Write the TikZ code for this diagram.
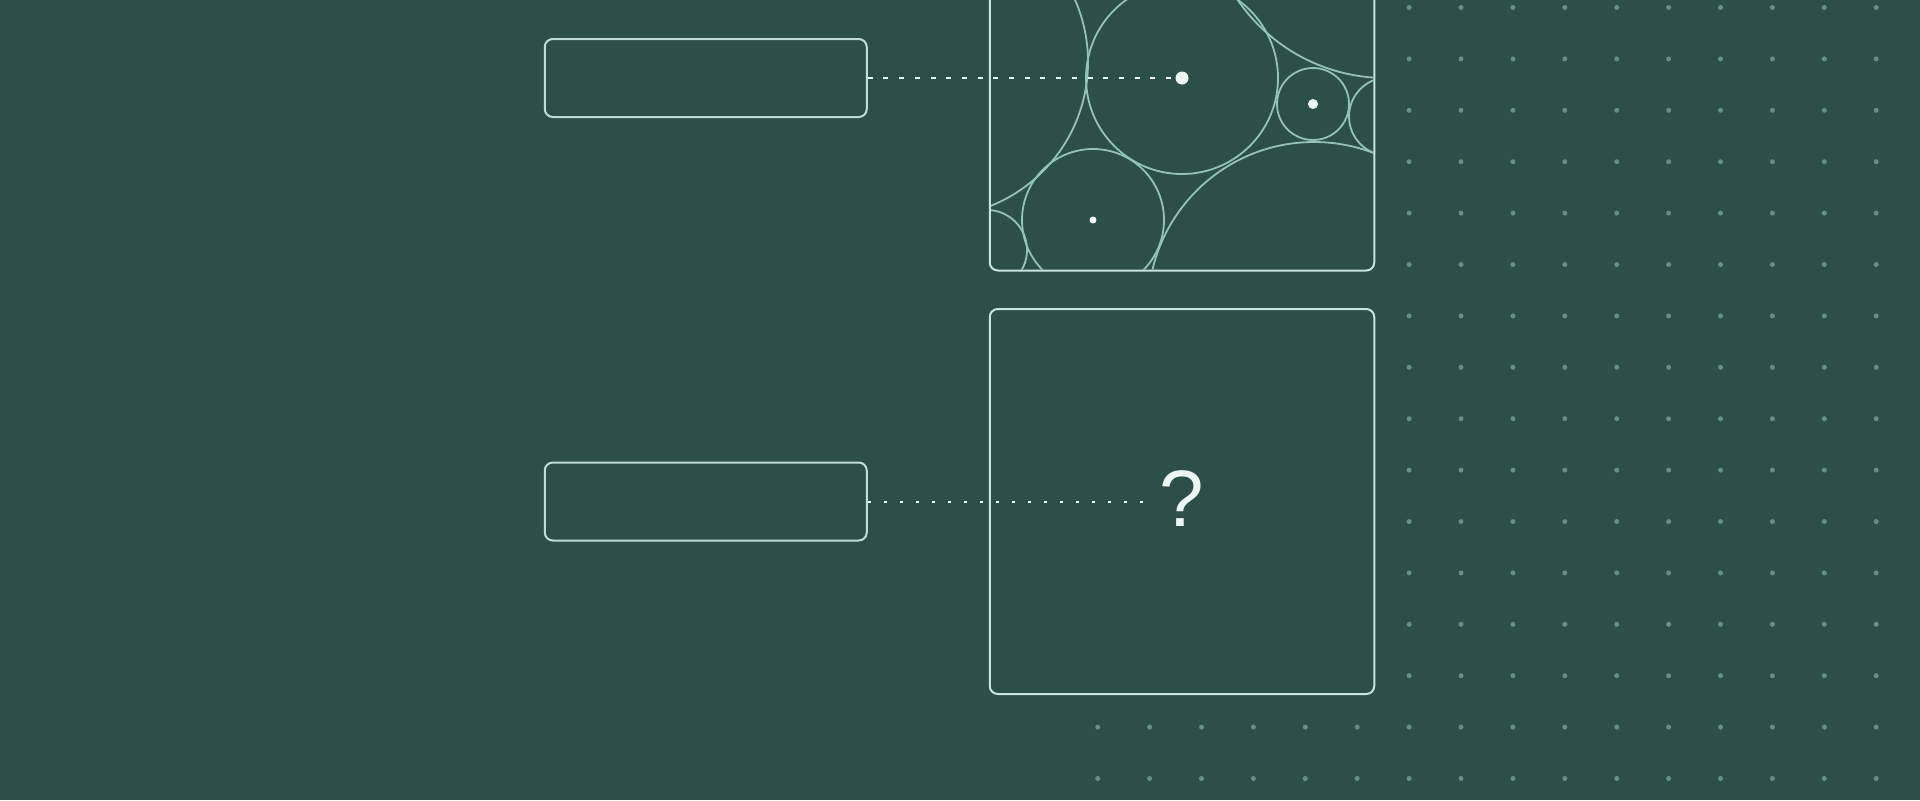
\documentclass[tikz,border=0pt]{standalone}
\usepackage{fontspec}
\setsansfont{Liberation Sans}
\usetikzlibrary{positioning}

\definecolor{bgteal}{HTML}{2D4F4A}
\definecolor{frameline}{HTML}{C9E4DE}
\definecolor{boxline}{HTML}{BFDDD6}
\definecolor{ringline}{HTML}{93C2B9}
\definecolor{griddot}{HTML}{62908A}
\definecolor{linkwhite}{HTML}{EEF6F4}

\begin{document}
\begin{tikzpicture}[x=0.5pt,y=-0.5pt,line width=1pt]
\tikzstyle{keybox}=[draw=boxline,rounded corners=4pt,minimum width=161pt,minimum height=39pt,inner sep=0pt]
\tikzstyle{panel}=[draw=frameline,fill=bgteal,rounded corners=4pt,minimum width=192.25pt,minimum height=192.5pt,inner sep=0pt]
\tikzstyle{seed}=[circle,fill=linkwhite,inner sep=0pt]
\tikzstyle{ring}=[draw=ringline,line width=0.9pt]
\tikzset{font=\sffamily\fontsize{40pt}{44pt}\selectfont}

  % background and dot grid
  \useasboundingbox (0,0) rectangle (1920,800);
  \fill[bgteal] (0,0) rectangle (1920,800);
  \clip (0,0) rectangle (1920,800);
  \foreach \i in {0,...,15}
    \foreach \j in {0,...,15}
      \fill[griddot] (1097.7+51.9*\i,7.5+51.4*\j) circle (2.5);

  % the two panels
  \node[panel]                      (sq1) at (1182,78) {};
  \node[panel,below=18.25pt of sq1] (sq2)              {};

  % packed circles, kept inside the upper panel
  \begin{scope}
    \clip[rounded corners=3.5pt] ([shift={(2,2)}]sq1.north west) rectangle ([shift={(-2,-2)}]sq1.south east);
    \foreach \cx/\cy/\r in {1182/78/96, 1313/104/36, 1093/220/71, 1314/308/166,
                            933/62/155, 1386/-102/180, 1388/116.5/39, 987/250/40}
      \draw[ring] (\cx,\cy) circle (\r);
  \end{scope}

  \node[seed,minimum size=6.5pt] (hub) at (sq1.center) {};
  \node[seed,minimum size=5pt]   (s2)  at (1313,104)   {};
  \node[seed,minimum size=3.5pt] (s3)  at (1093,220)   {};
  \node[text=linkwhite,inner sep=3pt] (ask) at ([yshift=1.5pt]sq2.center) {?};

  % input boxes
  \node[keybox,left=60.5pt of sq1] (k1) {};
  \node[keybox,left=60.5pt of sq2] (k2) {};

  \draw[linkwhite,dash pattern=on 2.5pt off 5.35pt] (k1) -- (hub);
  \draw[linkwhite,dash pattern=on 1.5pt off 6.5pt]  (k2) -- (k2 -| ask.west);
\end{tikzpicture}
\end{document}
